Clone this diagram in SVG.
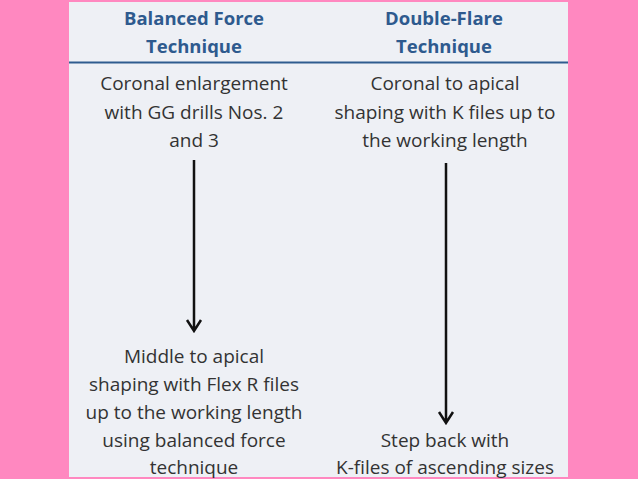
<svg xmlns="http://www.w3.org/2000/svg" width="638" height="479" viewBox="0 0 638 479">
<style>
.h{font-family:"Open Sans","Liberation Sans",sans-serif;font-weight:bold;font-size:18.5px;fill:#2e5a8e;text-anchor:middle}
.t{font-family:"Open Sans","Liberation Sans",sans-serif;font-size:19px;fill:#333;text-anchor:middle}
.c{stroke:#111;stroke-width:2.5;fill:none}
</style>
<rect width="638" height="479" fill="#ff88c0"/>
<rect x="69" y="2" width="499" height="475" fill="#eef0f5"/>
<line x1="69" y1="62.5" x2="568" y2="62.5" stroke="#2f5c8f" stroke-width="2"/>
<g id="h1"><text class="h" x="194" y="25">Balanced Force</text><text class="h" x="194" y="53">Technique</text></g>
<g id="h2"><text class="h" x="444" y="25">Double-Flare</text><text class="h" x="444" y="53">Technique</text></g>
<g id="n1"><text class="t" x="194" y="90">Coronal enlargement</text><text class="t" x="194" y="119">with GG drills Nos. 2</text><text class="t" x="194" y="147">and 3</text></g>
<g id="n2"><text class="t" x="445" y="90">Coronal to apical</text><text class="t" x="445" y="119">shaping with K files up to</text><text class="t" x="445" y="147">the working length</text></g>
<g id="n3"><text class="t" x="194" y="363">Middle to apical</text><text class="t" x="194" y="391">shaping with Flex R files</text><text class="t" x="194" y="419">up to the working length</text><text class="t" x="194" y="447">using balanced force</text><text class="t" x="194" y="474">technique</text></g>
<g id="n4"><text class="t" x="445" y="447">Step back with</text><text class="t" x="445" y="474">K-files of ascending sizes</text></g>
<g id="connectors">
<path class="c" d="M194 160V330M187 320L194 331L201 320"/>
<path class="c" d="M446 163V422M439 412L446 423L453 412"/>
</g>
</svg>
